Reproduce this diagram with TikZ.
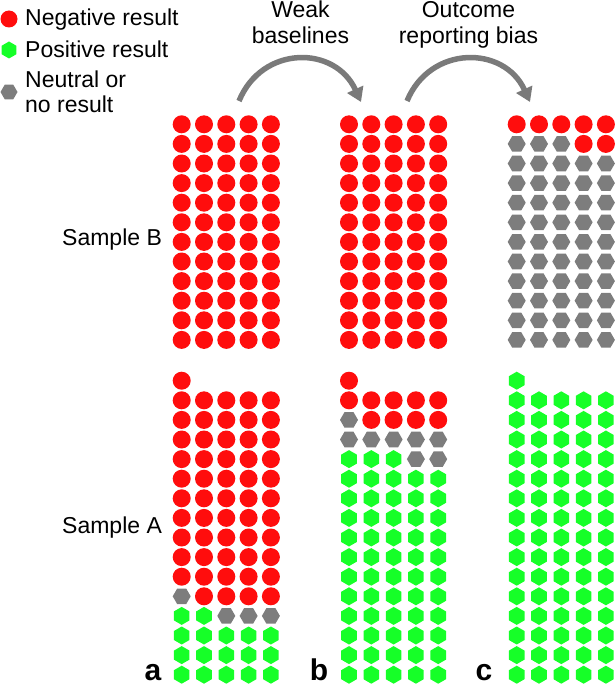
\documentclass[tikz,border=0pt]{standalone}
\usepackage{fontspec}
\setmainfont{Liberation Sans}
\usetikzlibrary{arrows.meta}
\definecolor{negc}{RGB}{255,13,13}
\definecolor{posc}{RGB}{22,255,40}
\definecolor{neuc}{RGB}{125,125,125}
\definecolor{arrc}{RGB}{122,122,122}
\newcommand\dotN[2]{\fill[negc] (#1,#2) circle (9pt);}
\newcommand\dotP[2]{\fill[posc,shift={(#1,#2)}] (90:9pt)--(150:9pt)--(210:9pt)--(270:9pt)--(330:9pt)--(30:9pt)--cycle;}
\newcommand\dotU[2]{\fill[neuc,shift={(#1,#2)}] (0:9pt)--(60:9pt)--(120:9pt)--(180:9pt)--(240:9pt)--(300:9pt)--cycle;}
\newcommand\dotE[2]{}
\newcommand\drawgrid[3]{%
  \foreach \row [count=\r from 0] in {#3} {%
    \foreach \t [count=\c from 0] in \row {%
      \csname dot\t\endcsname{#1+22.3*\c}{#2+19.6*\r}%
    }%
  }%
}
\tikzset{
  lbl/.style={inner sep=0pt, font=\fontsize{23}{27}\selectfont},
  panel/.style={inner sep=0pt, font=\fontsize{30}{34}\selectfont\bfseries},
  bias/.style={arrc, line width=5.5pt, -{Triangle[length=14pt,width=17pt]}},
}
\begin{document}
\begin{tikzpicture}[x=1pt,y=-1pt]
\useasboundingbox (0,0) rectangle (615,685);
% legend
\fill[negc] (9,19) circle (8.5pt);
\fill[posc,shift={(9,50)}] (90:8.5pt)--(150:8.5pt)--(210:8.5pt)--(270:8.5pt)--(330:8.5pt)--(30:8.5pt)--cycle;
\fill[neuc,shift={(9,92)}] (0:8.5pt)--(60:8.5pt)--(120:8.5pt)--(180:8.5pt)--(240:8.5pt)--(300:8.5pt)--cycle;
\node[lbl,anchor=base west] (lneg) at (25,25.5) {Negative result};
\node[lbl,anchor=base west] (lpos) at (25,57.5) {Positive result};
\node[lbl,anchor=base west] (lneu1) at (25,87.5) {Neutral or};
\node[lbl,anchor=base west] (lneu2) at (25,112) {no result};
% titles
\node[lbl,anchor=base] (weak) at (300.5,17.5) {Weak};
\node[lbl,anchor=base] (basel) at (300.5,43.5) {baselines};
\node[lbl,anchor=base] (outc) at (468.5,17.5) {Outcome};
\node[lbl,anchor=base] (repb) at (468.5,43.5) {reporting bias};
% arrows
\coordinate (a1s) at (239,101);
\coordinate (a1e) at (361,102);
\coordinate (a2s) at (407,101);
\coordinate (a2e) at (530,102);
\draw[bias] (a1s) .. controls (262,45) and (335,45) .. (a1e);
\draw[bias] (a2s) .. controls (430,45) and (504,45) .. (a2e);
% sample labels
\node[lbl,anchor=base west] (sb) at (62,245) {Sample B};
\node[lbl,anchor=base west] (sa) at (62,533) {Sample A};
% panel letters
\node[panel,anchor=base] (pa) at (153,680) {a};
\node[panel,anchor=base] (pb) at (319,680) {b};
\node[panel,anchor=base] (pc) at (484,680) {c};
% Sample B grids
\drawgrid{181.7}{124.3}{{N,N,N,N,N},{N,N,N,N,N},{N,N,N,N,N},{N,N,N,N,N},{N,N,N,N,N},{N,N,N,N,N},{N,N,N,N,N},{N,N,N,N,N},{N,N,N,N,N},{N,N,N,N,N},{N,N,N,N,N},{N,N,N,N,N}}
\drawgrid{349}{124.3}{{N,N,N,N,N},{N,N,N,N,N},{N,N,N,N,N},{N,N,N,N,N},{N,N,N,N,N},{N,N,N,N,N},{N,N,N,N,N},{N,N,N,N,N},{N,N,N,N,N},{N,N,N,N,N},{N,N,N,N,N},{N,N,N,N,N}}
\drawgrid{516.7}{124.3}{{N,N,N,N,N},{U,U,U,N,N},{U,U,U,U,U},{U,U,U,U,U},{U,U,U,U,U},{U,U,U,U,U},{U,U,U,U,U},{U,U,U,U,U},{U,U,U,U,U},{U,U,U,U,U},{U,U,U,U,U},{U,U,U,U,U}}
% Sample A grids
\drawgrid{181.7}{380.7}{{N,E,E,E,E},{N,N,N,N,N},{N,N,N,N,N},{N,N,N,N,N},{N,N,N,N,N},{N,N,N,N,N},{N,N,N,N,N},{N,N,N,N,N},{N,N,N,N,N},{N,N,N,N,N},{N,N,N,N,N},{U,N,N,N,N},{P,P,U,U,U},{P,P,P,P,P},{P,P,P,P,P},{P,P,P,P,P}}
\drawgrid{349}{380.7}{{N,E,E,E,E},{N,N,N,N,N},{U,N,N,N,N},{U,U,U,U,U},{P,P,P,U,U},{P,P,P,P,P},{P,P,P,P,P},{P,P,P,P,P},{P,P,P,P,P},{P,P,P,P,P},{P,P,P,P,P},{P,P,P,P,P},{P,P,P,P,P},{P,P,P,P,P},{P,P,P,P,P},{P,P,P,P,P}}
\drawgrid{516.7}{380.7}{{P,E,E,E,E},{P,P,P,P,P},{P,P,P,P,P},{P,P,P,P,P},{P,P,P,P,P},{P,P,P,P,P},{P,P,P,P,P},{P,P,P,P,P},{P,P,P,P,P},{P,P,P,P,P},{P,P,P,P,P},{P,P,P,P,P},{P,P,P,P,P},{P,P,P,P,P},{P,P,P,P,P},{P,P,P,P,P}}
\end{tikzpicture}
\end{document}
